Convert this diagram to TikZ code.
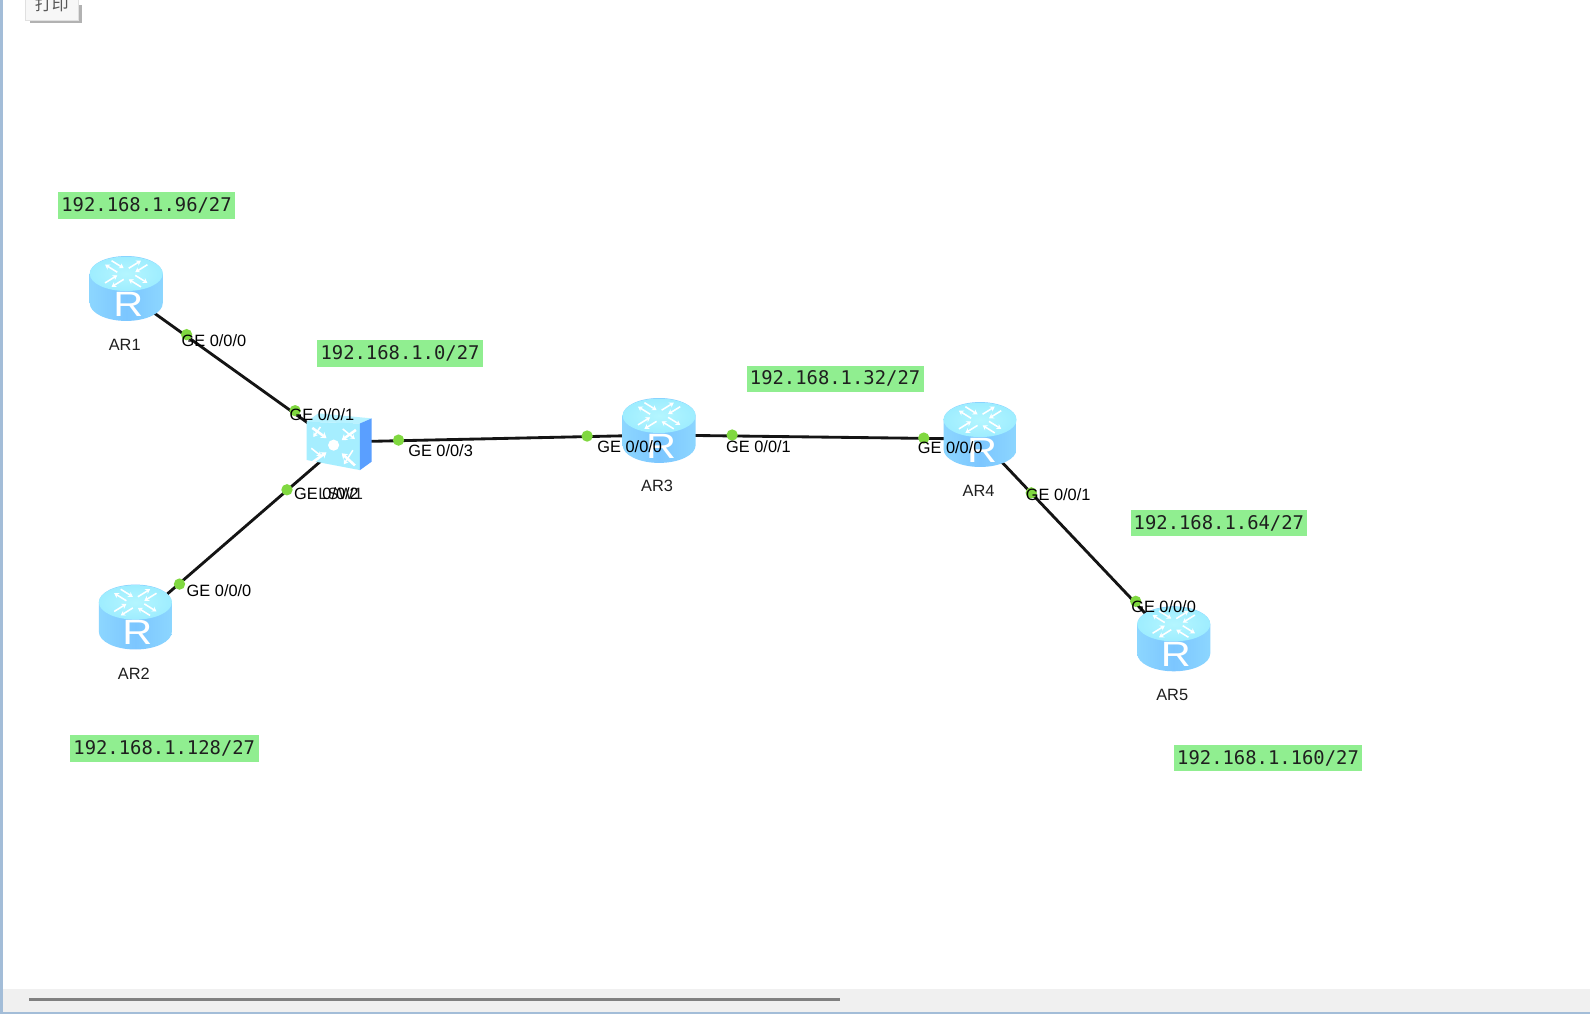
\documentclass[tikz,border=0pt]{standalone}
\usepackage{fontspec}
\setmainfont{Liberation Sans}
\newfontfamily\monof{DejaVu Sans Mono}
\newfontfamily\cjkf{Noto Sans CJK SC}
\usetikzlibrary{arrows.meta}
\definecolor{netgreen}{HTML}{90EE90}
\definecolor{dotgreen}{HTML}{80D840}
\definecolor{framebl}{HTML}{A3BDD8}
\definecolor{bodyedge}{HTML}{8CD6FF}
\definecolor{bodymid}{HTML}{7CC6FF}
\definecolor{topin}{HTML}{B4F6FF}
\definecolor{topout}{HTML}{9EEDFF}
\definecolor{swfront}{HTML}{A6EEFF}
\definecolor{swtop}{HTML}{B8F2FF}
\definecolor{swside}{HTML}{5A9FFF}
\tikzset{
  link/.style={line width=2.1pt,draw=black!92,line cap=round},
  devslot/.style={inner sep=0pt,minimum width=54pt,minimum height=48pt},
  netlabel/.style={fill=netgreen,font=\monof\fontsize{13.95}{15}\selectfont,text=black!88,inner sep=0pt,
     minimum height=19.5pt,anchor=center},
  portlabel/.style={font=\fontsize{12.1}{14}\selectfont,text=black,inner sep=0pt},
  devlabel/.style={font=\fontsize{12.1}{14}\selectfont,text=black!88,inner sep=0pt},
  portdot/.style={circle,fill=dotgreen,inner sep=0pt,minimum size=8.4pt},
  wharrow/.style={draw=white,line width=1.15pt,-{Stealth[length=3.4pt,width=4.2pt]}},
  wharrowb/.style={draw=white,line width=1.9pt,-{Stealth[length=4pt,width=5.4pt]}},
  pics/routericon/.style={code={
    \path[left color=bodyedge,right color=bodyedge,middle color=bodymid]
      (-36,-19) -- (-36,10) arc[start angle=180,end angle=0,x radius=36,y radius=17.5]
      -- (36,-19) arc[start angle=360,end angle=180,x radius=36,y radius=17.5] -- cycle;
    \path[inner color=topin,outer color=topout] (0,-19) ellipse[x radius=36,y radius=17];
    \foreach \a in {45,135,225,315}{
      \begin{scope}[shift={(0,-19)},yscale=.62,rotate=\a]
        \draw[wharrow] (8,-4.5) -- (25,-4.5);
        \draw[wharrow] (25,4.5) -- (8,4.5);
      \end{scope}}
    \node[text=white,inner sep=0pt,font=\fontsize{26}{26}\selectfont,xscale=1.18] at (2,11) {R};
  }},
  pics/switchicon/.style={code={
    \fill[swtop] (-27.6,-20) -- (25,-18.4) -- (36.5,-23.4) -- (-16,-28.4) -- cycle;
    \fill[swfront] (-27.6,-20) -- (25,-18.4) -- (25,27.6) -- (-27.6,17.6) -- cycle;
    \fill[swside] (25,-18.4) -- (36.5,-23.4) -- (36.5,19.3) -- (25,27.6) -- cycle;
    \fill[white] (-1,3) circle[radius=5.5];
    \draw[wharrowb] (-22,-14) -- (-8,-4);
    \draw[wharrowb] (21,-12) -- (7,-2);
    \draw[wharrowb] (-22,20) -- (-8,10);
    \draw[wharrowb] (20,23) -- (7,11);
    \draw[wharrow] (-14,-15) -- (-21,-5);
    \draw[wharrow] (8,-13) -- (20,-3);
    \draw[wharrow] (-23,6) -- (-13,14);
    \draw[wharrow] (18,8) -- (9,22);
  }}
}
\begin{document}
\begin{tikzpicture}[x=.75pt,y=-.75pt]
\useasboundingbox (0,0) rectangle (1568,1000);
\clip (0,0) rectangle (1568,1000);
\fill[white] (0,0) rectangle (1568,1000);
% window chrome
\fill[framebl] (0,0) rectangle (3,1000);
\fill[black!6] (3,975) rectangle (1568,998);
\fill[framebl] (0,998) rectangle (1568,1000);
\fill[black!50] (29,984.5) rectangle (828,987.5);
% print button
\fill[black!30] (30,5) rectangle (81,23);
\node[draw=black!12,fill=black!3,inner sep=0pt,minimum width=39.5pt,minimum height=24pt,anchor=south west,
      font=\cjkf\fontsize{12.5}{14}\selectfont,text=black!65] (printbtn) at (24.5,20) {打印};
% device slots
\node[devslot] (AR1) at (124.5,289) {};
\node[devslot] (AR2) at (133.5,613) {};
\node[devslot] (AR3) at (650,429) {};
\node[devslot] (AR4) at (966.5,433) {};
\node[devslot] (AR5) at (1157.5,634.5) {};
\node[inner sep=0pt,minimum width=48pt,minimum height=43pt] (LSW1) at (330,436) {};
% connectors
\draw[link] (AR1.center) -- (LSW1.center);
\draw[link] (AR2.center) -- ([yshift=-5.2pt]LSW1.center);
\draw[link] (LSW1.center) -- (AR3.center);
\draw[link] (AR3.center) -- (AR4.center);
\draw[link] (AR4.center) -- (AR5.center);
% icons
\pic at (AR1) {routericon};
\pic at (AR2) {routericon};
\pic at (AR3) {routericon};
\pic at (AR4) {routericon};
\pic at (AR5) {routericon};
\pic at (LSW1) {switchicon};
% port dots
\foreach \n/\x/\y in {d1/184/330,d2/291/405,d3/393/434,d4/283/483,d5/177/576,d6/579/430,d7/722/429,d8/911/432,d9/1017/486,d10/1120/593}
  \node[portdot] (\n) at (\x,\y) {};
% device names
\node[devlabel] (lAR1) at (123,340) {AR1};
\node[devlabel] (lAR2) at (132,664) {AR2};
\node[devlabel] (lAR3) at (648,479) {AR3};
\node[devlabel] (lAR4) at (965,484) {AR4};
\node[devlabel] (lAR5) at (1156,685) {AR5};
\node[devlabel] (lLSW) at (336,487) {LSW1};
% port labels
\node[portlabel] (p1) at (211,336) {GE 0/0/0};
\node[portlabel] (p2) at (317.5,408.5) {GE 0/0/1};
\node[portlabel] (p3) at (434.5,444) {GE 0/0/3};
\node[portlabel] (p4) at (322,487) {GE 0/0/2};
\node[portlabel] (p5) at (216,582) {GE 0/0/0};
\node[portlabel] (p6) at (621,440) {GE 0/0/0};
\node[portlabel] (p7) at (748,440) {GE 0/0/1};
\node[portlabel] (p8) at (937,441.5) {GE 0/0/0};
\node[portlabel] (p9) at (1043.5,488) {GE 0/0/1};
\node[portlabel] (p10) at (1147.5,598) {GE 0/0/0};
% network labels
\node[netlabel,minimum width=130.5pt] (n96) at (144.5,202.5) {192.168.1.96/27};
\node[netlabel,minimum width=122.5pt] (n0) at (394.5,348.5) {192.168.1.0/27};
\node[netlabel,minimum width=131pt] (n32) at (823.5,373.5) {192.168.1.32/27};
\node[netlabel,minimum width=130.5pt] (n64) at (1202,516) {192.168.1.64/27};
\node[netlabel,minimum width=139.5pt] (n128) at (162,738) {192.168.1.128/27};
\node[netlabel,minimum width=139pt] (n160) at (1250.5,747.5) {192.168.1.160/27};
\end{tikzpicture}
\end{document}
